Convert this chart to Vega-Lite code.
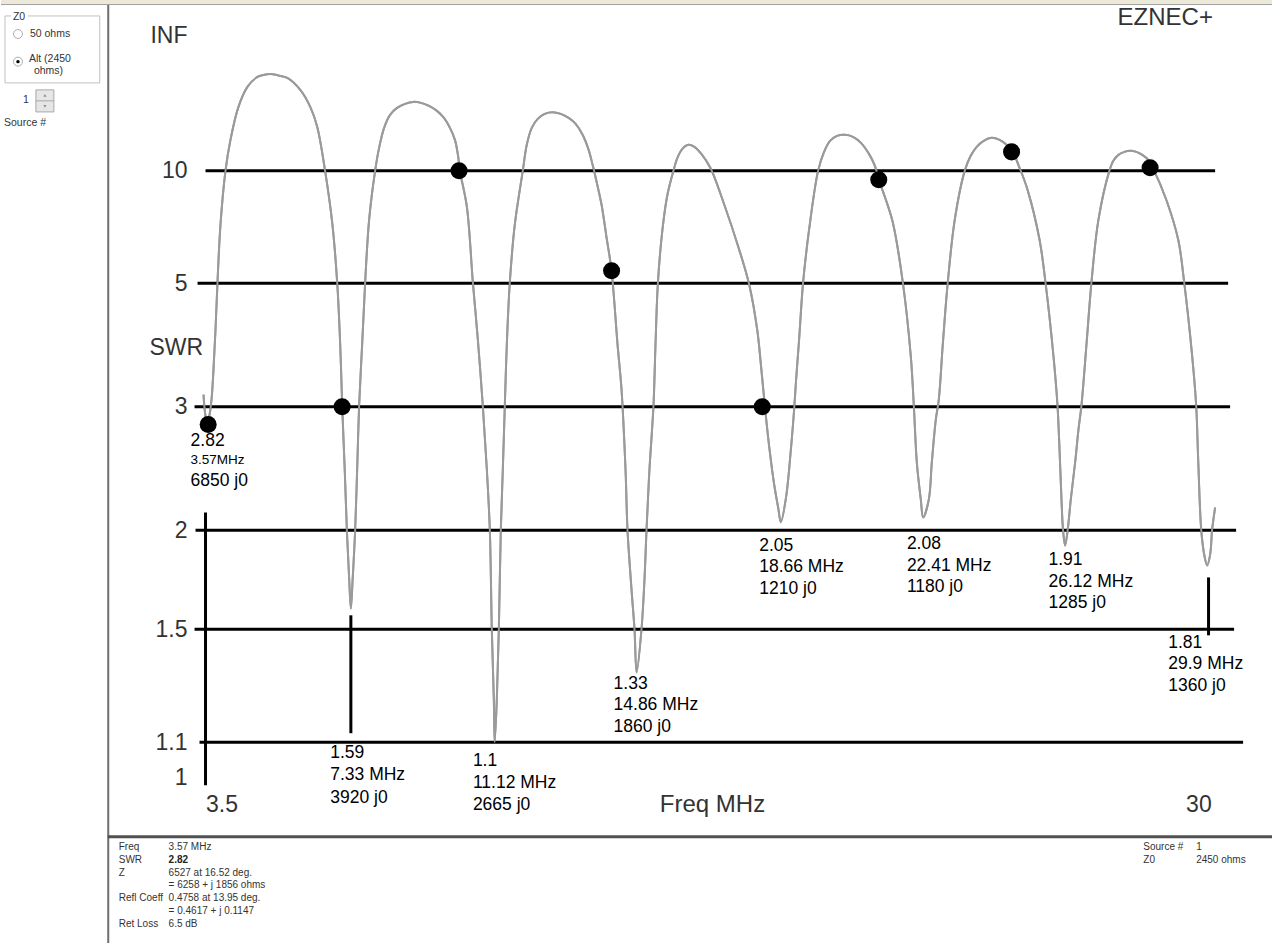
{
  "$schema": "https://vega.github.io/schema/vega-lite/v6.json",
  "width": 1274,
  "height": 944,
  "autosize": {"type": "fit", "contains": "padding"},
  "padding": 0,
  "background": "white",
  "config": {"view": {"stroke": null}, "font": "Liberation Sans"},
  "datasets": {
    "curve": [
      {"freq":3.447,"refl":0.5164},{"freq":3.487,"refl":0.4921},{"freq":3.539,"refl":0.4773},{"freq":3.592,"refl":0.4854},
      {"freq":3.658,"refl":0.5096},{"freq":3.710,"refl":0.5501},{"freq":3.763,"refl":0.6039},{"freq":3.815,"refl":0.6673},
      {"freq":3.894,"refl":0.7454},{"freq":4.026,"refl":0.8181},{"freq":4.157,"refl":0.8599},{"freq":4.368,"refl":0.9044},
      {"freq":4.604,"refl":0.9313},{"freq":4.867,"refl":0.9448},{"freq":5.025,"refl":0.9475},{"freq":5.209,"refl":0.9488},
      {"freq":5.419,"refl":0.9468},{"freq":5.656,"refl":0.9434},
      {"freq":5.997,"refl":0.9273},{"freq":6.260,"refl":0.9044},{"freq":6.444,"refl":0.8774},{"freq":6.655,"refl":0.8168},
      {"freq":6.839,"refl":0.7481},{"freq":6.970,"refl":0.6673},{"freq":7.049,"refl":0.5837},{"freq":7.102,"refl":0.5002},
      {"freq":7.168,"refl":0.4153},{"freq":7.225,"refl":0.3332},{"freq":7.286,"refl":0.2671},{"freq":7.330,"refl":0.2278},
      {"freq":7.377,"refl":0.2671},{"freq":7.443,"refl":0.3332},{"freq":7.496,"refl":0.4153},{"freq":7.548,"refl":0.5016},
      {"freq":7.627,"refl":0.5837},{"freq":7.706,"refl":0.6673},{"freq":7.811,"refl":0.7521},{"freq":7.969,"refl":0.8181},
      {"freq":8.074,"refl":0.8491},{"freq":8.206,"refl":0.8761},{"freq":8.363,"refl":0.8936},{"freq":8.547,"refl":0.9030},
      {"freq":8.758,"refl":0.9084},{"freq":8.968,"refl":0.9111},{"freq":9.178,"refl":0.9098},{"freq":9.389,"refl":0.9057},
      {"freq":9.599,"refl":0.8990},{"freq":9.783,"refl":0.8895},{"freq":9.941,"refl":0.8761},{"freq":10.072,"refl":0.8599},
      {"freq":10.151,"refl":0.8397},{"freq":10.203,"refl":0.8181},
      {"freq":10.387,"refl":0.7696},{"freq":10.545,"refl":0.6673},{"freq":10.676,"refl":0.5905},{"freq":10.808,"refl":0.5002},
      {"freq":10.913,"refl":0.4153},{"freq":10.992,"refl":0.3332},{"freq":11.044,"refl":0.1998},{"freq":11.097,"refl":0.1055},
      {"freq":11.120,"refl":0.0476},{"freq":11.176,"refl":0.1055},{"freq":11.229,"refl":0.1998},{"freq":11.281,"refl":0.3332},
      {"freq":11.334,"refl":0.4153},{"freq":11.386,"refl":0.5002},{"freq":11.439,"refl":0.5837},{"freq":11.518,"refl":0.6673},
      {"freq":11.649,"refl":0.7454},{"freq":11.860,"refl":0.8181},{"freq":11.965,"refl":0.8532},{"freq":12.096,"refl":0.8761},
      {"freq":12.254,"refl":0.8882},{"freq":12.438,"refl":0.8949},{"freq":12.648,"refl":0.8970},{"freq":12.859,"refl":0.8949},
      {"freq":13.069,"refl":0.8895},{"freq":13.253,"refl":0.8815},{"freq":13.437,"refl":0.8667},{"freq":13.595,"refl":0.8464},
      {"freq":13.700,"refl":0.8262},{"freq":13.805,"refl":0.8033},{"freq":13.936,"refl":0.7724},{"freq":14.068,"refl":0.7279},
      {"freq":14.199,"refl":0.6834},
      {"freq":14.357,"refl":0.5837},{"freq":14.462,"refl":0.5231},{"freq":14.567,"refl":0.4153},{"freq":14.620,"refl":0.3332},
      {"freq":14.725,"refl":0.2537},{"freq":14.804,"refl":0.1998},{"freq":14.860,"refl":0.1416},{"freq":14.988,"refl":0.1998},
      {"freq":15.067,"refl":0.2671},{"freq":15.120,"refl":0.3332},{"freq":15.198,"refl":0.4153},{"freq":15.304,"refl":0.5016},
      {"freq":15.357,"refl":0.5837},{"freq":15.421,"refl":0.6673},{"freq":15.540,"refl":0.7387},{"freq":15.671,"refl":0.7858},
      {"freq":15.829,"refl":0.8181},{"freq":15.934,"refl":0.8357},{"freq":16.066,"refl":0.8478},{"freq":16.223,"refl":0.8532},
      {"freq":16.381,"refl":0.8505},{"freq":16.565,"refl":0.8410},{"freq":16.802,"refl":0.8222},{"freq":17.170,"refl":0.7724},
      {"freq":17.538,"refl":0.7158},{"freq":17.827,"refl":0.6646},{"freq":18.037,"refl":0.6039},{"freq":18.142,"refl":0.5528},
      {"freq":18.248,"refl":0.4962},{"freq":18.353,"refl":0.4463},{"freq":18.484,"refl":0.3951},{"freq":18.589,"refl":0.3641},
      {"freq":18.660,"refl":0.3443},{"freq":18.800,"refl":0.3790},{"freq":18.931,"refl":0.4463},
      {"freq":19.010,"refl":0.4962},{"freq":19.062,"refl":0.5366},{"freq":19.141,"refl":0.5905},{"freq":19.246,"refl":0.6673},
      {"freq":19.404,"refl":0.7387},{"freq":19.641,"refl":0.8181},{"freq":19.799,"refl":0.8437},{"freq":19.956,"refl":0.8586},
      {"freq":20.140,"refl":0.8653},{"freq":20.351,"refl":0.8667},{"freq":20.561,"refl":0.8640},{"freq":20.771,"refl":0.8559},
      {"freq":20.982,"refl":0.8410},{"freq":21.139,"refl":0.8249},{"freq":21.244,"refl":0.8060},
      {"freq":21.428,"refl":0.7791},{"freq":21.612,"refl":0.7481},{"freq":21.875,"refl":0.6673},{"freq":22.085,"refl":0.5676},
      {"freq":22.164,"refl":0.5016},{"freq":22.243,"refl":0.4248},{"freq":22.348,"refl":0.3749},{"freq":22.410,"refl":0.3506},
      {"freq":22.559,"refl":0.3749},{"freq":22.638,"refl":0.4248},{"freq":22.743,"refl":0.4827},{"freq":22.822,"refl":0.5096},
      {"freq":22.927,"refl":0.5837},{"freq":23.058,"refl":0.6673},{"freq":23.242,"refl":0.7521},{"freq":23.505,"refl":0.8181},
      {"freq":23.663,"refl":0.8384},{"freq":23.821,"refl":0.8505},{"freq":24.005,"refl":0.8586},{"freq":24.215,"refl":0.8626},
      {"freq":24.425,"refl":0.8599},{"freq":24.609,"refl":0.8532},{"freq":24.767,"refl":0.8437},{"freq":24.951,"refl":0.8222},
      {"freq":25.161,"refl":0.7925},{"freq":25.477,"refl":0.7252},{"freq":25.634,"refl":0.6673},{"freq":25.845,"refl":0.5676},
      {"freq":25.950,"refl":0.5016},{"freq":26.003,"refl":0.4423},{"freq":26.055,"refl":0.3749},{"freq":26.095,"refl":0.3345},
      {"freq":26.150,"refl":0.3127},{"freq":26.220,"refl":0.3345},{"freq":26.300,"refl":0.3749},{"freq":26.423,"refl":0.4288},
      {"freq":26.502,"refl":0.4692},{"freq":26.581,"refl":0.5016},{"freq":26.713,"refl":0.5837},{"freq":26.844,"refl":0.6673},
      {"freq":27.028,"refl":0.7521},{"freq":27.317,"refl":0.8181},{"freq":27.422,"refl":0.8316},{"freq":27.554,"refl":0.8397},
      {"freq":27.711,"refl":0.8437},{"freq":27.869,"refl":0.8451},{"freq":28.027,"refl":0.8437},{"freq":28.184,"refl":0.8397},
      {"freq":28.342,"refl":0.8330},{"freq":28.474,"refl":0.8208},{"freq":28.816,"refl":0.7791},{"freq":29.131,"refl":0.7252},
      {"freq":29.289,"refl":0.6673},{"freq":29.500,"refl":0.5676},{"freq":29.604,"refl":0.5016},{"freq":29.657,"refl":0.4288},
      {"freq":29.736,"refl":0.3345},{"freq":29.815,"refl":0.3008},{"freq":29.894,"refl":0.2860},{"freq":29.973,"refl":0.3008},
      {"freq":30.025,"refl":0.3345},{"freq":30.104,"refl":0.3641}
    ],
    "dots": [
      {"freq":3.57,"refl":0.476},{"freq":7.10,"refl":0.5},{"freq":10.18,"refl":0.8182},{"freq":14.20,"refl":0.6834},
      {"freq":18.17,"refl":0.5},{"freq":21.24,"refl":0.806},{"freq":24.74,"refl":0.8437},{"freq":28.39,"refl":0.8222}
    ],
    "grid": [
      {"swr":10,"refl":0.81818,"from":3.5,"to":30.103},
      {"swr":5,"refl":0.66667,"from":3.29,"to":30.445},
      {"swr":3,"refl":0.5,"from":3.211,"to":30.498},
      {"swr":2,"refl":0.33333,"from":3.237,"to":30.656},
      {"swr":1.5,"refl":0.2,"from":3.211,"to":30.603},
      {"swr":1.1,"refl":0.047619,"from":3.342,"to":30.84}
    ],
    "markers": [
      {"freq":3.5,"lo":-0.0104,"hi":0.3574},
      {"freq":7.33,"lo":0.0597,"hi":0.2187},
      {"freq":29.93,"lo":0.1917,"hi":0.2698}
    ],
    "notes": [
      {"text":"2.82","freq":3.106,"refl":0.4544},{"text":"6850 j0","freq":3.106,"refl":0.3992},
      {"text":"1.59","freq":6.786,"refl":0.0327},{"text":"7.33 MHz","freq":6.786,"refl":0.0031},{"text":"3920 j0","freq":6.786,"refl":-0.0279},
      {"text":"1.1","freq":10.545,"refl":0.0220},{"text":"11.12 MHz","freq":10.545,"refl":-0.0077},{"text":"2665 j0","freq":10.545,"refl":-0.0373},
      {"text":"1.33","freq":14.252,"refl":0.1257},{"text":"14.86 MHz","freq":14.252,"refl":0.0974},{"text":"1860 j0","freq":14.252,"refl":0.0678},
      {"text":"2.05","freq":18.090,"refl":0.3116},{"text":"18.66 MHz","freq":18.090,"refl":0.2833},{"text":"1210 j0","freq":18.090,"refl":0.2537},
      {"text":"2.08","freq":21.981,"refl":0.3143},{"text":"22.41 MHz","freq":21.981,"refl":0.2847},{"text":"1180 j0","freq":21.981,"refl":0.2564},
      {"text":"1.91","freq":25.713,"refl":0.2927},{"text":"26.12 MHz","freq":25.713,"refl":0.2631},{"text":"1285 j0","freq":25.713,"refl":0.2348},
      {"text":"1.81","freq":28.868,"refl":0.1809},{"text":"29.9 MHz","freq":28.868,"refl":0.1526},{"text":"1360 j0","freq":28.868,"refl":0.1230}
    ],
    "notes_small": [
      {"text":"3.57MHz","freq":3.106,"refl":0.4275}
    ],
    "panel": [
      {"text":"Freq","freq":1.213,"refl":-0.0939},{"text":"SWR","freq":1.213,"refl":-0.1111},{"text":"Z","freq":1.213,"refl":-0.1284},
      {"text":"Refl Coeff","freq":1.213,"refl":-0.1629},{"text":"Ret Loss","freq":1.213,"refl":-0.1974},
      {"text":"3.57 MHz","freq":2.527,"refl":-0.0939},{"text":"6527 at 16.52 deg.","freq":2.527,"refl":-0.1284},
      {"text":"= 6258 + j 1856 ohms","freq":2.527,"refl":-0.1456},{"text":"0.4758 at 13.95 deg.","freq":2.527,"refl":-0.1629},
      {"text":"= 0.4617 + j 0.1147","freq":2.527,"refl":-0.1801},{"text":"6.5 dB","freq":2.527,"refl":-0.1974},
      {"text":"Source #","freq":28.211,"refl":-0.0939},{"text":"1","freq":29.604,"refl":-0.0939},
      {"text":"Z0","freq":28.211,"refl":-0.1111},{"text":"2450 ohms","freq":29.604,"refl":-0.1111}
    ],
    "panel_bold": [
      {"text":"2.82","freq":2.527,"refl":-0.1111}
    ],
    "sidebar": [
      {"text":"Z0","freq":-1.574,"refl":1.0250},{"text":"50 ohms","freq":-1.127,"refl":1.0027},
      {"text":"Alt (2450","freq":-1.153,"refl":0.9691},{"text":"ohms)","freq":-1.022,"refl":0.9533},
      {"text":"1","freq":-1.311,"refl":0.9138},{"text":"Source #","freq":-1.810,"refl":0.8828}
    ],
    "box": [
      {"x":-1.784,"x2":-1.626,"y":1.0270,"y2":1.0270},
      {"x":-1.179,"x2":0.713,"y":1.0270,"y2":1.0270},
      {"x":-1.784,"x2":0.713,"y":0.9367,"y2":0.9367},
      {"x":-1.784,"x2":-1.784,"y":0.9367,"y2":1.0270},
      {"x":0.713,"x2":0.713,"y":0.9367,"y2":1.0270}
    ],
    "radios": [
      {"freq":-1.442,"refl":1.0027,"selected":false},
      {"freq":-1.442,"refl":0.9654,"selected":true}
    ],
    "spin_arrows": [
      {"freq":-0.732,"refl":0.9199,"dir":"triangle-up"},
      {"freq":-0.732,"refl":0.9051,"dir":"triangle-down"}
    ]
  },
  "layer": [
    {
      "data": {"name": "curve"},
      "mark": {"type": "line", "color": "#9a9a9a", "strokeWidth": 2, "interpolate": "catmull-rom"},
      "encoding": {
        "x": {
          "field": "freq", "type": "quantitative",
          "scale": {"domain": [-1.889, 31.602], "nice": false, "zero": false},
          "axis": {
            "orient": "bottom", "offset": -154, "values": [3.5, 30],
            "labelExpr": "format(datum.value, '~g')",
            "labelAlign": {"condition": {"test": "datum.value < 10", "value": "left"}, "value": "right"},
            "labelBaseline": "middle", "labelPadding": 15, "labelFontSize": 23, "labelColor": "#333333",
            "labelFont": "Liberation Sans", "labelOverlap": false, "labelBound": false, "labelFlush": false,
            "ticks": false, "tickSize": 0, "domain": false, "grid": false,
            "title": "Freq MHz", "titleX": 711, "titleY": 15, "titleAlign": "center", "titleBaseline": "middle",
            "titleFontSize": 24, "titleFontWeight": "normal", "titleColor": "#333333", "titleFont": "Liberation Sans"
          }
        },
        "y": {
          "field": "refl", "type": "quantitative",
          "scale": {"domain": [-0.22323, 1.04853], "nice": false, "zero": false},
          "axis": {
            "orient": "left", "offset": -188,
            "values": [0, 0.047619, 0.2, 0.333333, 0.5, 0.666667, 0.818182, 1],
            "labelExpr": "datum.value >= 0.99 ? 'INF' : format((1 + datum.value) / (1 - datum.value), '.2~f')",
            "labelPadding": 2, "labelFontSize": 23, "labelColor": "#333333", "labelFont": "Liberation Sans",
            "labelOverlap": false, "labelBound": false, "labelFlush": false, "labelBaseline": "middle",
            "ticks": false, "tickSize": 0, "domain": false, "grid": false,
            "title": "SWR", "titleAngle": 0, "titleX": -40, "titleY": 347, "titleAlign": "left", "titleBaseline": "middle",
            "titleFontSize": 23, "titleFontWeight": "normal", "titleColor": "#333333", "titleFont": "Liberation Sans"
          }
        }
      }
    },
    {
      "data": {"values": [{}]},
      "mark": {"type": "rect", "color": "#ece9d8"},
      "encoding": {
        "x": {"datum": -1.889, "type": "quantitative"},
        "x2": {"datum": 31.602},
        "y": {"datum": 1.04853, "type": "quantitative"},
        "y2": {"datum": 1.0431}
      }
    },
    {
      "data": {"values": [{}]},
      "mark": {"type": "rule", "color": "#a0a0a0", "strokeWidth": 1},
      "encoding": {
        "x": {"datum": -1.889, "type": "quantitative"},
        "x2": {"datum": 31.602},
        "y": {"datum": 1.0424, "type": "quantitative"}
      }
    },
    {
      "data": {"values": [{}]},
      "mark": {"type": "rule", "color": "#6e6e6e", "strokeWidth": 2},
      "encoding": {
        "x": {"datum": 0.937, "type": "quantitative"},
        "y": {"datum": 1.0418, "type": "quantitative"},
        "y2": {"datum": -0.22323}
      }
    },
    {
      "data": {"values": [{}]},
      "mark": {"type": "rule", "color": "#505050", "strokeWidth": 3},
      "encoding": {
        "x": {"datum": 0.924, "type": "quantitative"},
        "x2": {"datum": 31.602},
        "y": {"datum": -0.0798, "type": "quantitative"}
      }
    },
    {
      "data": {"name": "grid"},
      "mark": {"type": "rule", "color": "black", "strokeWidth": 3},
      "encoding": {
        "x": {"field": "from", "type": "quantitative"},
        "x2": {"field": "to"},
        "y": {"field": "refl", "type": "quantitative"}
      }
    },
    {
      "data": {"name": "markers"},
      "mark": {"type": "rule", "color": "black", "strokeWidth": 3},
      "encoding": {
        "x": {"field": "freq", "type": "quantitative"},
        "y": {"field": "lo", "type": "quantitative"},
        "y2": {"field": "hi"}
      }
    },
    {
      "data": {"name": "curve"},
      "mark": {"type": "line", "color": "#9a9a9a", "strokeWidth": 2, "interpolate": "catmull-rom"},
      "encoding": {
        "x": {"field": "freq", "type": "quantitative"},
        "y": {"field": "refl", "type": "quantitative"}
      }
    },
    {
      "data": {"name": "dots"},
      "mark": {"type": "circle", "color": "black", "size": 290, "opacity": 1},
      "encoding": {
        "x": {"field": "freq", "type": "quantitative"},
        "y": {"field": "refl", "type": "quantitative"}
      }
    },
    {
      "data": {"name": "notes"},
      "mark": {"type": "text", "align": "left", "baseline": "middle", "font": "Liberation Sans", "fontSize": 17.5, "color": "black"},
      "encoding": {
        "x": {"field": "freq", "type": "quantitative"},
        "y": {"field": "refl", "type": "quantitative"},
        "text": {"field": "text"}
      }
    },
    {
      "data": {"name": "notes_small"},
      "mark": {"type": "text", "align": "left", "baseline": "middle", "font": "Liberation Sans", "fontSize": 13.5, "color": "black"},
      "encoding": {
        "x": {"field": "freq", "type": "quantitative"},
        "y": {"field": "refl", "type": "quantitative"},
        "text": {"field": "text"}
      }
    },
    {
      "data": {"values": [{}]},
      "mark": {"type": "text", "align": "center", "baseline": "middle", "font": "Liberation Sans", "fontSize": 24, "color": "#333333"},
      "encoding": {
        "x": {"datum": 28.789, "type": "quantitative"},
        "y": {"datum": 1.0236, "type": "quantitative"},
        "text": {"value": "EZNEC+"}
      }
    },
    {
      "data": {"name": "panel"},
      "mark": {"type": "text", "align": "left", "baseline": "middle", "font": "Liberation Sans", "fontSize": 10, "color": "#333333"},
      "encoding": {
        "x": {"field": "freq", "type": "quantitative"},
        "y": {"field": "refl", "type": "quantitative"},
        "text": {"field": "text"}
      }
    },
    {
      "data": {"name": "panel_bold"},
      "mark": {"type": "text", "align": "left", "baseline": "middle", "font": "Liberation Sans", "fontSize": 10, "fontWeight": "bold", "color": "#222222"},
      "encoding": {
        "x": {"field": "freq", "type": "quantitative"},
        "y": {"field": "refl", "type": "quantitative"},
        "text": {"field": "text"}
      }
    },
    {
      "data": {"name": "box"},
      "mark": {"type": "rule", "color": "#c0c0c0", "strokeWidth": 1},
      "encoding": {
        "x": {"field": "x", "type": "quantitative"},
        "x2": {"field": "x2"},
        "y": {"field": "y", "type": "quantitative"},
        "y2": {"field": "y2"}
      }
    },
    {
      "data": {"values": [{}]},
      "mark": {"type": "rect", "fill": "#e6e6e6", "stroke": "#a8a8a8", "strokeWidth": 1},
      "encoding": {
        "x": {"datum": -0.969, "type": "quantitative"},
        "x2": {"datum": -0.496},
        "y": {"datum": 0.9273, "type": "quantitative"},
        "y2": {"datum": 0.8976}
      }
    },
    {
      "data": {"values": [{}]},
      "mark": {"type": "rule", "color": "#a8a8a8", "strokeWidth": 1},
      "encoding": {
        "x": {"datum": -0.969, "type": "quantitative"},
        "x2": {"datum": -0.496},
        "y": {"datum": 0.9125, "type": "quantitative"}
      }
    },
    {
      "data": {"name": "spin_arrows"},
      "mark": {"type": "point", "filled": true, "size": 10, "color": "#909090", "opacity": 1},
      "encoding": {
        "x": {"field": "freq", "type": "quantitative"},
        "y": {"field": "refl", "type": "quantitative"},
        "shape": {"field": "dir", "type": "nominal", "scale": null, "legend": null}
      }
    },
    {
      "data": {"name": "radios"},
      "mark": {"type": "point", "shape": "circle", "filled": false, "size": 80, "stroke": "#8a8a8a", "strokeWidth": 1, "fill": "white"},
      "encoding": {
        "x": {"field": "freq", "type": "quantitative"},
        "y": {"field": "refl", "type": "quantitative"}
      }
    },
    {
      "data": {"name": "radios"},
      "transform": [{"filter": "datum.selected"}],
      "mark": {"type": "circle", "size": 12, "color": "black", "opacity": 1},
      "encoding": {
        "x": {"field": "freq", "type": "quantitative"},
        "y": {"field": "refl", "type": "quantitative"}
      }
    },
    {
      "data": {"name": "sidebar"},
      "mark": {"type": "text", "align": "left", "baseline": "middle", "font": "Liberation Sans", "fontSize": 10.5, "color": "#333333"},
      "encoding": {
        "x": {"field": "freq", "type": "quantitative"},
        "y": {"field": "refl", "type": "quantitative"},
        "text": {"field": "text"}
      }
    }
  ]
}
